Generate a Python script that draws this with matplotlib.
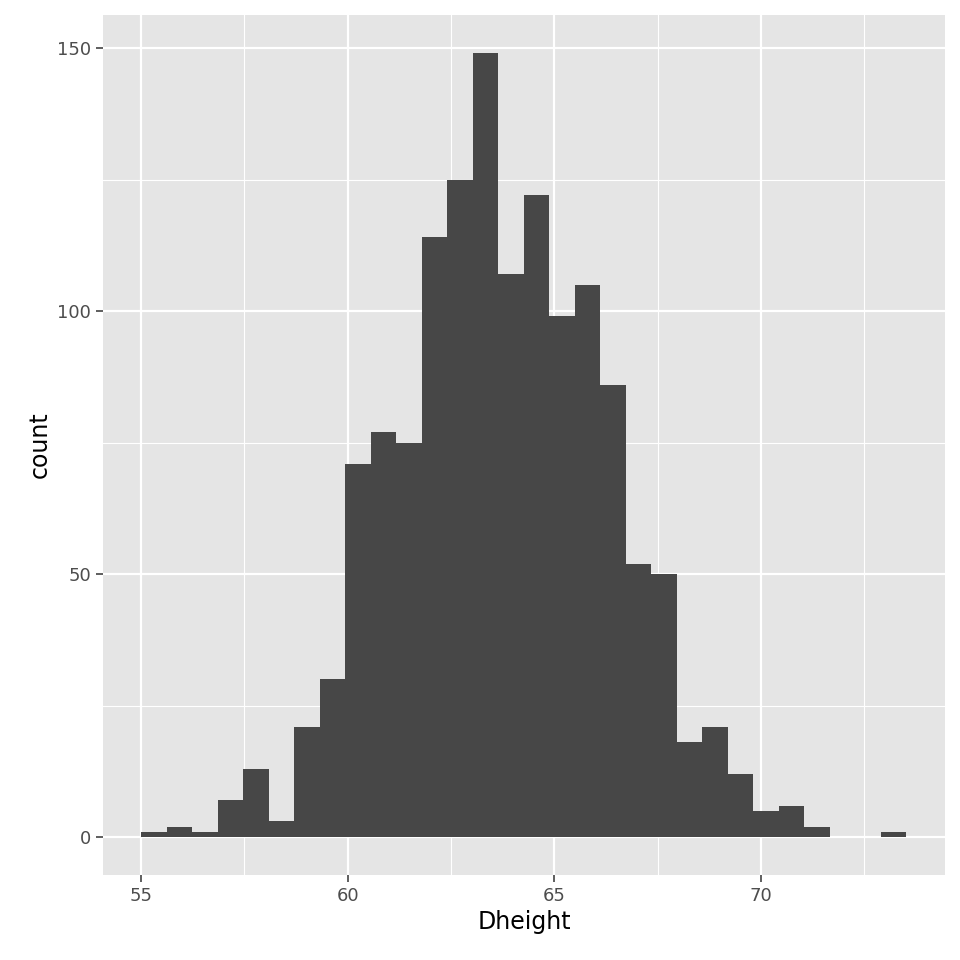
import numpy as np
import matplotlib
matplotlib.use("Agg")
import matplotlib.pyplot as plt

# histogram counts (30 bins)
bin_start = 55.0
bin_width = 0.617
counts = [1, 2, 1, 7, 13, 3, 21, 30, 71, 77, 75, 114, 125, 149, 107,
          122, 99, 105, 86, 52, 50, 18, 21, 12, 5, 6, 2, 0, 0, 1]
x_ticks = [55, 60, 65, 70]
y_ticks = [0, 50, 100, 150]

edges = bin_start + bin_width * np.arange(len(counts))

fig = plt.figure(figsize=(9.6, 9.6), dpi=100)
ax = fig.add_axes([103 / 960, 85 / 960, 842 / 960, 860 / 960])
ax.set_facecolor("#e5e5e5")
ax.bar(edges, counts, width=bin_width, align="edge", color="#474747", zorder=3)

ax.set_xlim(54.08, 74.45)
ax.set_ylim(-7.2, 156.3)
ax.set_xticks(x_ticks)
ax.set_yticks(y_ticks)
ax.set_xticks([57.5, 62.5, 67.5, 72.5], minor=True)
ax.set_yticks([25, 75, 125], minor=True)
ax.grid(which="major", color="white", linewidth=1.6, zorder=0)
ax.grid(which="minor", color="white", linewidth=0.8, zorder=0)
for s in ax.spines.values():
    s.set_visible(False)
ax.tick_params(which="major", length=5, color="#333333", labelsize=13,
               labelcolor="#4d4d4d", width=1.1)
ax.tick_params(which="minor", length=0)
ax.set_xlabel("Dheight", fontsize=17)
ax.set_ylabel("count", fontsize=17)

fig.savefig("out.png", dpi=100)
